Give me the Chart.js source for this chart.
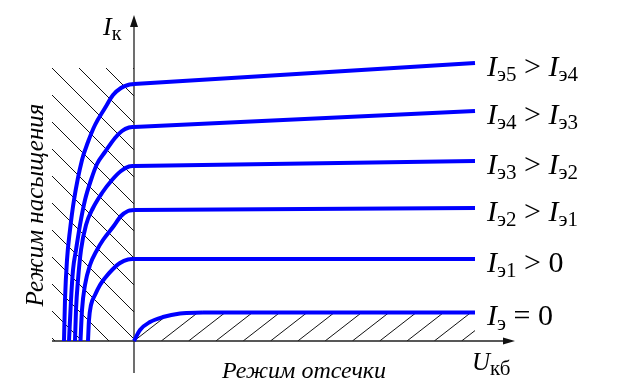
<!DOCTYPE html>
<html>
<head>
<meta charset="utf-8">
<script src="https://cdn.jsdelivr.net/npm/chart.js@4.4.0/dist/chart.umd.min.js"></script>
<style>
  body { margin: 0; background: #fff; }
  #wrap { position: relative; width: 626px; height: 391px; }
  #labels { position: absolute; left: 0; top: 0; width: 626px; height: 391px; pointer-events: none;
    font-family: "Liberation Serif", "Times New Roman", serif; color: #000; }
  #labels div { position: absolute; white-space: pre; line-height: 1; }
  #labels .sub { position: relative; }
</style>
</head>
<body>
<div id="wrap">
  <canvas id="bjtChart" width="626" height="391"></canvas>
  <div id="labels"></div>
</div>
<script>
// output characteristics Ik(Ukb), points as [U, I]
const curveIe5 = [[-7.0, 0], [-6.9, 4.1], [-6.7, 8.1], [-6.4, 11.1], [-6.0, 14.1], [-5.2, 18.1], [-4.6, 19.9],
  [-3.9, 21.6], [-2.9, 23.3], [-2.1, 24.6], [-1.3, 25.3], [-0.6, 25.6], [0, 25.7], [34.1, 27.8]];
const curveIe4 = [[-6.5, 0], [-6.3, 4.1], [-6.1, 7.1], [-5.8, 9.1], [-5.4, 11.6], [-4.9, 14.1], [-4.3, 16.1],
  [-3.7, 17.7], [-2.9, 18.9], [-1.9, 20.3], [-1.2, 21.0], [-0.5, 21.35], [0, 21.4], [34.1, 23.0]];
const curveIe3 = [[-5.9, 0], [-5.8, 3.1], [-5.6, 6.1], [-5.3, 9.1], [-4.8, 11.6], [-4.1, 13.3], [-3.2, 14.8],
  [-2.2, 16.1], [-1.3, 17.0], [-0.5, 17.45], [0, 17.5], [34.1, 18.0]];
const curveIe2 = [[-5.35, 0], [-5.2, 3.1], [-4.9, 5.6], [-4.4, 7.6], [-3.7, 9.1], [-3.1, 10.1], [-2.1, 11.4],
  [-1.3, 12.5], [-0.6, 13.0], [0, 13.1], [34.1, 13.3]];
const curveIe1 = [[-4.6, 0], [-4.5, 2.1], [-4.3, 3.6], [-3.9, 4.6], [-3.4, 5.6], [-2.9, 6.3], [-2.2, 7.1],
  [-1.4, 7.8], [-0.6, 8.15], [0, 8.2], [34.1, 8.2]];
const curveIe0 = [[0, 0], [0.6, 1.1], [1.6, 1.9], [2.9, 2.4], [4.6, 2.75], [6.9, 2.85], [34.1, 2.85]];

const curves = [curveIe5, curveIe4, curveIe3, curveIe2, curveIe1, curveIe0];

// label of each curve: [text, kind]  i = italic, s = subscript, n = normal
const curveLabels = [
  [['I', 'i'], ['э5', 's'], [' > ', 'n'], ['I', 'i'], ['э4', 's']],
  [['I', 'i'], ['э4', 's'], [' > ', 'n'], ['I', 'i'], ['э3', 's']],
  [['I', 'i'], ['э3', 's'], [' > ', 'n'], ['I', 'i'], ['э2', 's']],
  [['I', 'i'], ['э2', 's'], [' > ', 'n'], ['I', 'i'], ['э1', 's']],
  [['I', 'i'], ['э1', 's'], [' > 0', 'n']],
  [['I', 'i'], ['э', 's'], [' = 0', 'n']]
];
const yAxisTitle = [['I', 'i'], ['к', 's']];
const xAxisTitle = [['U', 'i'], ['кб', 's']];
const saturationText = 'Режим насыщения';
const cutoffText = 'Режим отсечки';
const saturationTop = 27.3;   // upper edge of the hatched saturation zone

const decor = {
  id: 'decor',
  beforeDatasetsDraw(chart) {
    const { ctx, chartArea: a, scales: { x, y } } = chart;
    const x0 = x.getPixelForValue(0), y0 = y.getPixelForValue(0);
    ctx.save();
    ctx.strokeStyle = '#111';
    ctx.lineWidth = 1;

    // saturation zone hatch "\"
    const top = y.getPixelForValue(saturationTop);
    ctx.save();
    ctx.beginPath();
    ctx.rect(a.left, top, x0 - a.left, y0 - top);
    ctx.clip();
    ctx.beginPath();
    for (let k = -4; k < 14; k++) {
      const c = top - a.left + 27 * k;
      ctx.moveTo(a.left, a.left + c);
      ctx.lineTo(x0, x0 + c);
    }
    ctx.stroke();
    ctx.restore();

    // cutoff zone hatch "/" under the Iэ=0 curve
    const pts = chart.getDatasetMeta(10).data;
    const endPt = chart.getDatasetMeta(11).data[1];
    ctx.save();
    ctx.beginPath();
    ctx.moveTo(pts[0].x, y0);
    pts.forEach(p => ctx.lineTo(p.x, p.y));
    ctx.lineTo(endPt.x, endPt.y);
    ctx.lineTo(endPt.x, y0);
    ctx.closePath();
    ctx.clip();
    ctx.beginPath();
    for (let k = 0; k < 14; k++) {
      const bx = x0 + 27.3 * k;
      ctx.moveTo(bx, y0);
      ctx.lineTo(bx + 45, y0 - 35);
    }
    ctx.stroke();
    ctx.restore();

    // axes with arrows
    ctx.strokeStyle = '#222';
    ctx.fillStyle = '#111';
    ctx.lineWidth = 1.3;
    ctx.beginPath();
    ctx.moveTo(a.left, y0);
    ctx.lineTo(a.right - 10, y0);
    ctx.moveTo(x0, a.bottom);
    ctx.lineTo(x0, a.top + 10);
    ctx.stroke();
    ctx.beginPath();
    ctx.moveTo(a.right, y0);
    ctx.lineTo(a.right - 12, y0 - 3.5);
    ctx.lineTo(a.right - 12, y0 + 3.5);
    ctx.closePath();
    ctx.moveTo(x0, a.top);
    ctx.lineTo(x0 - 4, a.top + 12);
    ctx.lineTo(x0 + 4, a.top + 12);
    ctx.closePath();
    ctx.fill();
    ctx.restore();
  }
};

// each curve: the bent part (smooth) and the straight active-mode part
const datasets = [];
curves.forEach(c => {
  const pts = c.map(([u, i]) => ({ x: u, y: i }));
  const base = { showLine: true, borderColor: '#0000ff', borderWidth: 4, pointRadius: 0, fill: false };
  datasets.push({ ...base, data: pts.slice(0, -1), cubicInterpolationMode: 'monotone' });
  datasets.push({ ...base, data: pts.slice(-2), tension: 0 });
});

const chart = new Chart(document.getElementById('bjtChart'), {
  type: 'scatter',
  data: { datasets },
  options: {
    responsive: false,
    animation: false,
    layout: { padding: { left: 52, right: 111, top: 15, bottom: 18 } },
    plugins: {
      legend: { display: false },
      tooltip: { enabled: false }
    },
    scales: {
      x: { type: 'linear', min: -8.2, max: 38.1, display: false },
      y: { type: 'linear', min: -3.2, max: 32.6, display: false }
    }
  },
  plugins: [decor]
});

// text layer placed from the chart's scales
const layer = document.getElementById('labels');
const ASC = 0.8375;   // baseline offset in a line-height:1 box, Liberation Serif

function addText(parts, left, baseline, size, subSize) {
  const d = document.createElement('div');
  d.style.fontSize = size + 'px';
  d.style.left = left + 'px';
  d.style.top = (baseline - ASC * size) + 'px';
  parts.forEach(([t, kind]) => {
    const s = document.createElement('span');
    s.textContent = t;
    if (kind === 'i') s.style.fontStyle = 'italic';
    if (kind === 's') {
      s.className = 'sub';
      s.style.fontSize = subSize + 'px';
      s.style.top = '5px';
    }
    d.appendChild(s);
  });
  layer.appendChild(d);
  return d;
}

const a = chart.chartArea;
const x0 = chart.scales.x.getPixelForValue(0);
const y0 = chart.scales.y.getPixelForValue(0);

curveLabels.forEach((lab, i) => {
  const end = chart.getDatasetMeta(2 * i + 1).data[1];
  addText(lab, end.x + 12, end.y + 13, 30, 21);
});
addText(yAxisTitle, x0 - 31, a.top + 21, 26, 20);
addText(xAxisTitle, a.right - 43, y0 + 29, 25, 21);

const cut = addText([[cutoffText, 'i']], x0 + 170, y0 + 37, 24, 0);
cut.style.transform = 'translateX(-50%)';

const satTop = chart.scales.y.getPixelForValue(saturationTop);
const sat = addText([[saturationText, 'i']], a.left - 18, (satTop + y0) / 2, 25, 0);
sat.style.top = ((satTop + y0) / 2) + 'px';
sat.style.transform = 'translate(-50%, -50%) rotate(-90deg)';
</script>
</body>
</html>
